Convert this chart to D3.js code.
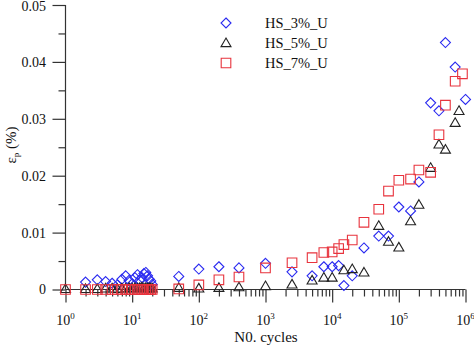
<!DOCTYPE html>
<html>
<head>
<meta charset="utf-8">
<script src="https://cdn.jsdelivr.net/npm/d3@7"></script>
<style>
  html, body { margin: 0; padding: 0; background: #fff; }
  svg { display: block; }
  text { font-family: "Liberation Serif", "Times New Roman", serif; fill: #111; }
</style>
</head>
<body>
<svg id="chart" width="474" height="345"></svg>
<script>
// ---- data ----
const seriesNames = ["HS_3%_U", "HS_5%_U", "HS_7%_U"];

const cycles3 = [2,3,4,5,6,7,8,9,10,11,12,13,14,15,16,17,18,19,20,
  50,100,200,400,1000,2500,5000,7500,10000,12500,15000,20000,30000,50000,70000,
  100000,150000,200000,300000,400000,500000,700000,1000000];
const strain3 = [0.0013,0.0017,0.0014,0.0011,0.0008,0.0018,0.0024,0.0016,0.0010,0.0021,0.0026,0.0016,0.0021,0.0028,0.0030,0.0024,0.0018,0.0015,0.0009,
  0.0023,0.0036,0.0040,0.0038,0.0046,0.0031,0.0024,0.0040,0.0040,0.0042,0.0007,0.0024,0.0073,0.0094,0.0094,
  0.0145,0.0138,0.0189,0.0328,0.0314,0.0434,0.0391,0.0334];

const cycles5 = [1,2,3,4,5,6,7,8,9,10,11,12,13,14,15,16,17,18,19,20,
  50,100,200,400,1000,2500,5000,7500,10000,15000,20000,30000,50000,70000,
  100000,150000,200000,300000,400000,500000,700000,800000];
const strain5 = [0.0001,0.0001,0.0001,0.0002,0.0002,0.0001,0.0002,0.0002,0.0003,0.0002,0.0003,0.0002,0.0003,0.0004,0.0002,0.0003,0.0002,0.0003,0.0002,0.0002,
  0.0003,0.0002,0.0003,0.0004,0.0006,0.0009,0.0016,0.0021,0.0021,0.0034,0.0036,0.0030,0.0112,0.0084,
  0.0074,0.0120,0.0149,0.0214,0.0255,0.0246,0.0293,0.0314];

const cycles7 = [1,2,3,4,5,6,7,8,9,10,11,12,13,14,15,16,17,18,19,20,
  50,100,200,400,1000,2500,5000,7500,10000,12500,15000,20000,30000,50000,70000,
  100000,150000,200000,300000,400000,500000,700000,900000];
const strain7 = [0,0,0,0,0,0,0,0,0,0,0,0,0,0,0,0,0,0,0,0,
  0.0001,0.0008,0.0017,0.0022,0.0038,0.0047,0.0056,0.0065,0.0066,0.0072,0.0079,0.0087,0.0118,0.0141,0.0173,
  0.0192,0.0194,0.0210,0.0206,0.0272,0.0324,0.0366,0.0379];

const xMajorTicks = [1,10,100,1000,10000,100000,1000000];
const xTickExponents = ["0","1","2","3","4","5","6"];
const yMajorTicks = [0,0.01,0.02,0.03,0.04,0.05];
const yTickLabels = ["0","0.01","0.02","0.03","0.04","0.05"];

// ---- chart ----
const svg = d3.select("#chart");
const x = d3.scaleLog().domain([1, 1e6]).range([65.5, 465.5]);
const y = d3.scaleLinear().domain([0, 0.05]).range([289.5, 5]);
const axisColor = "#333";

// minor ticks
const xMinor = [];
for (let e = 0; e < 6; e++) for (let m = 2; m <= 9; m++) xMinor.push(m * Math.pow(10, e));
const yMinor = d3.range(0.005, 0.05, 0.01);

const gx = svg.append("g").attr("transform", `translate(0,${y(0)})`);
gx.call(d3.axisBottom(x).tickValues(xMajorTicks).tickSize(13).tickFormat("").tickSizeOuter(0));
gx.call(g => g.select(".domain").remove());
const gxm = svg.append("g").attr("transform", `translate(0,${y(0)})`);
gxm.call(d3.axisBottom(x).tickValues(xMinor).tickSize(7).tickFormat("").tickSizeOuter(0));
gxm.call(g => g.select(".domain").remove());

const gy = svg.append("g").attr("transform", `translate(${x(1)},0)`);
gy.call(d3.axisLeft(y).tickValues(yMajorTicks).tickSize(13).tickFormat("").tickSizeOuter(0));
gy.call(g => g.select(".domain").remove());
const gym = svg.append("g").attr("transform", `translate(${x(1)},0)`);
gym.call(d3.axisLeft(y).tickValues(yMinor).tickSize(7).tickFormat("").tickSizeOuter(0));
gym.call(g => g.select(".domain").remove());

svg.selectAll(".tick line").attr("stroke", axisColor).attr("stroke-width", 1.2);

// axis lines
svg.append("line").attr("x1", x(1)).attr("x2", x(1e6)).attr("y1", y(0)).attr("y2", y(0))
  .attr("stroke", axisColor).attr("stroke-width", 1.2);
svg.append("line").attr("x1", x(1)).attr("x2", x(1)).attr("y1", y(0.05)).attr("y2", y(0))
  .attr("stroke", axisColor).attr("stroke-width", 1.2);

// y tick labels
svg.append("g").selectAll("text").data(yMajorTicks).join("text")
  .attr("x", 46).attr("y", d => Math.max(y(d), 6)).attr("dy", "0.35em")
  .attr("text-anchor", "end").attr("font-size", 14)
  .text((d, i) => yTickLabels[i]);

// x tick labels 10^n
const xl = svg.append("g").selectAll("text").data(xMajorTicks).join("text")
  .attr("x", d => x(d)).attr("y", 325)
  .attr("text-anchor", "middle").attr("font-size", 14);
xl.append("tspan").text("10");
xl.append("tspan").attr("font-size", 9).attr("dy", -6).text((d, i) => xTickExponents[i]);

// axis titles
svg.append("text").attr("x", 266).attr("y", 342).attr("text-anchor", "middle")
  .attr("font-size", 15).text("N0. cycles");
const yt = svg.append("text").attr("transform", "translate(16,145) rotate(-90)")
  .attr("text-anchor", "middle").attr("font-size", 15);
yt.append("tspan").text("ε");
yt.append("tspan").attr("font-size", 9).attr("dy", 3).text("p");
yt.append("tspan").attr("dy", -3).text(" (%)");

// markers
const blue = "#2a2af0", black = "#222", red = "#e8333d";
const diamond = (cx, cy, r) => `M${cx},${cy - r}L${cx + r},${cy}L${cx},${cy + r}L${cx - r},${cy}Z`;
const triangle = (cx, cy, r) => `M${cx},${cy - r}L${cx + r},${cy + r * 0.72}L${cx - r},${cy + r * 0.72}Z`;
const square = (cx, cy, r) => `M${cx - r},${cy - r}H${cx + r}V${cy + r}H${cx - r}Z`;

const plotSeries = (cyc, val, shape, color, r) => {
  svg.append("g").selectAll("path").data(cyc.map((c, i) => [c, val[i]])).join("path")
    .attr("d", d => shape(x(d[0]), y(d[1]), r))
    .attr("fill", "none").attr("stroke", color).attr("stroke-width", 1.1);
};
plotSeries(cycles3, strain3, diamond, blue, 5);
plotSeries(cycles5, strain5, triangle, black, 5);
plotSeries(cycles7, strain7, square, red, 4.8);

// legend
const legendShapes = [diamond, triangle, square];
const legendColors = [blue, black, red];
const legendR = [5, 5, 4.8];
seriesNames.forEach((name, i) => {
  const cy = 23 + i * 20;
  svg.append("path").attr("d", legendShapes[i](226, cy, legendR[i]))
    .attr("fill", "none").attr("stroke", legendColors[i]).attr("stroke-width", 1.1);
  svg.append("text").attr("x", 265).attr("y", cy + 5).attr("font-size", 14.5).text(name);
});
</script>
</body>
</html>
